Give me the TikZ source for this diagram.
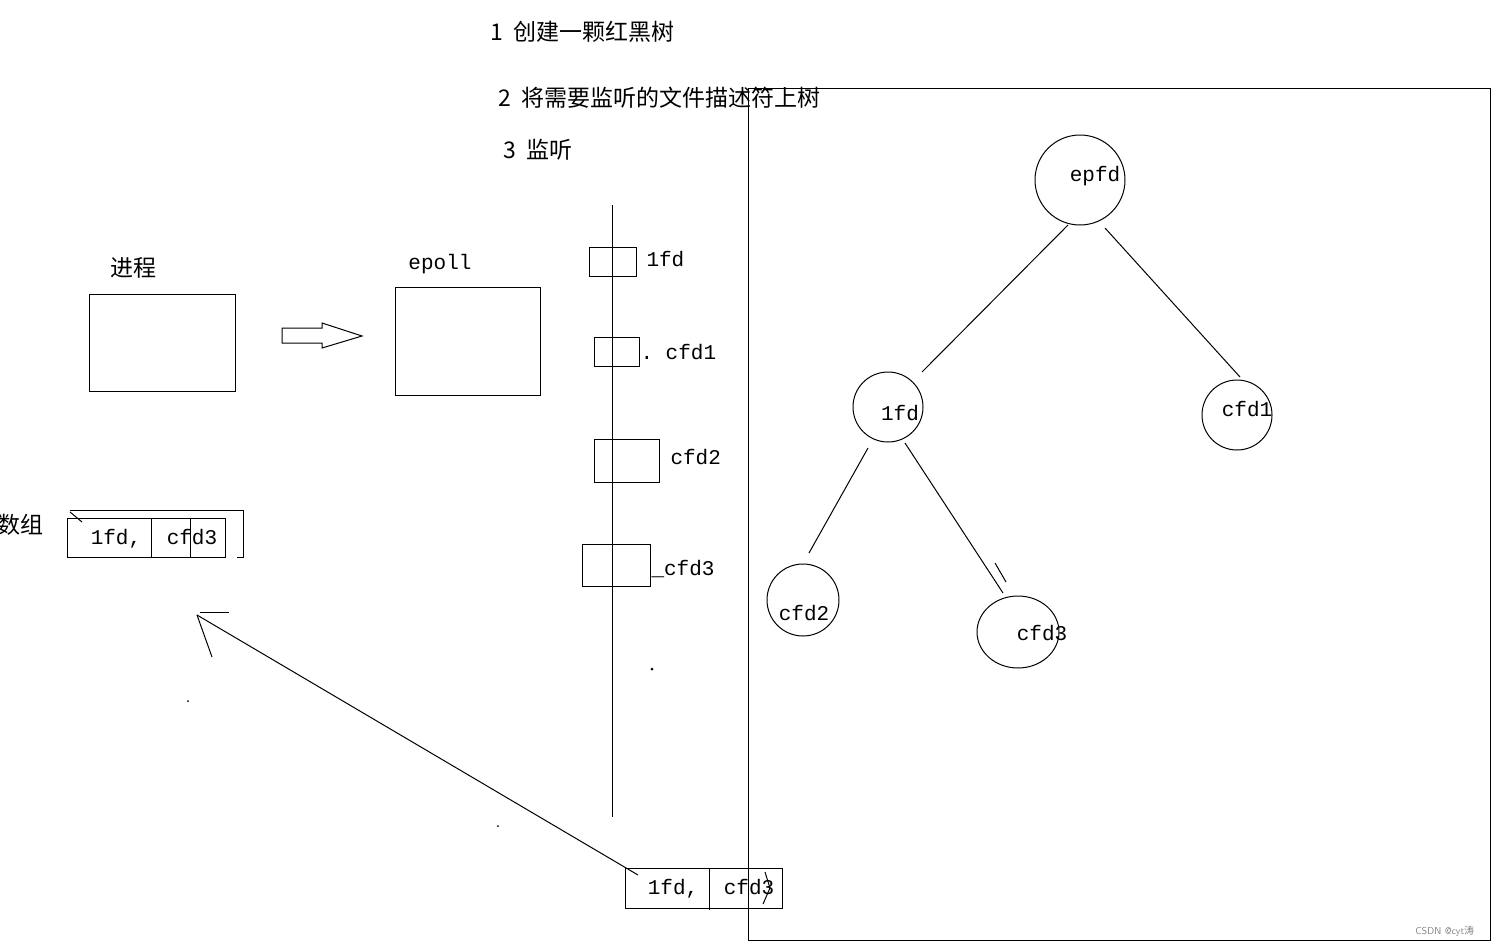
\documentclass[tikz,border=0pt]{standalone}
\usepackage{fontspec}
\usetikzlibrary{shapes.geometric}
\setmainfont{Liberation Mono}
\newfontfamily\cjk{Noto Sans CJK SC}
\begin{document}
\begin{tikzpicture}[x=1pt,y=-1pt,line width=1pt,
  lab/.style={font=\fontsize{21}{24}\selectfont,inner sep=0pt},
  cn/.style={font=\cjk\fontsize{23}{26}\selectfont,inner sep=0pt,anchor=west},
  box/.style={draw,line width=1pt}]
\useasboundingbox (0,0) rectangle (1492,948);
\node[cn] (t1) at (490,32) {1\ \ 创建一颗红黑树};
\node[cn] (t2) at (498,98) {2\ \ 将需要监听的文件描述符上树};
\node[cn] (t3) at (503,150) {3\ \ 监听};
\draw (748,88) rectangle (1490,940);
% tree
\node[draw,circle,minimum size=90pt,inner sep=0pt] (ep) at (1080,180) {};
\node[lab] at (1095,176) {epfd};
\node[draw,circle,minimum size=70pt,inner sep=0pt] (l) at (888,407) {};
\node[lab] at (900,413) {1fd};
\node[draw,circle,minimum size=70pt,inner sep=0pt] (c1) at (1237,415) {};
\node[lab] at (1247,409) {cfd1};
\node[draw,circle,minimum size=72pt,inner sep=0pt] (c2) at (803,600) {};
\node[lab] at (804,613) {cfd2};
\node[draw,ellipse,minimum width=82pt,minimum height=72pt,inner sep=0pt] (c3) at (1018,632) {};
\node[lab] at (1042,633) {cfd3};
\coordinate (a1) at (1068,225); \coordinate (a2) at (922,372);
\coordinate (b1) at (1105,228); \coordinate (b2) at (1240,377);
\coordinate (d1) at (868,448); \coordinate (d2) at (809,553);
\coordinate (e1) at (905,443); \coordinate (e2) at (1003,593);
\draw (a1)--(a2); \draw (b1)--(b2); \draw (d1)--(d2); \draw (e1)--(e2);
\draw (995,563)--(1006,582);
% process / epoll
\node[cn] at (110,268) {进程};
\node[box,minimum width=146pt,minimum height=97pt] (p) at (162,343) {};
\node[lab] at (440,264) {epoll};
\node[box,minimum width=145pt,minimum height=108pt] (e) at (468,341) {};
\draw (282,328)--(322,328)--(322,323)--(362,336)--(322,348)--(322,343)--(282,343)--cycle;
% vertical list
\draw (612,205)--(612,817);
\node[box,minimum width=47pt,minimum height=29pt] (r1) at (613,262) {};
\node[lab,anchor=west] at (646,259) {1fd};
\node[box,minimum width=45pt,minimum height=29pt] (r2) at (617,352) {};
\node[lab,anchor=west] at (640,352) {.\ cfd1};
\node[box,minimum width=65pt,minimum height=43pt] (r3) at (627,461) {};
\node[lab,anchor=west] at (670,457) {cfd2};
\node[box,minimum width=68pt,minimum height=42pt] (r4) at (616,565) {};
\node[lab,anchor=west] at (651,569) {\_cfd3};
\fill (652,669) circle (1.5);
\fill (188,701) circle (1); \fill (498,826) circle (1);
% array left
\node[cn,anchor=east] at (44,525) {数组};
\draw (67,518) rectangle (225,557); \draw (151,518)--(151,557);
\node[lab] at (116,539) {1fd,};
\node[lab] at (192,537) {cfd3};
\draw (70,512)--(82,522); \draw (70,510)--(243,510)--(243,557)--(237,557);
\draw (190,518)--(190,557);
% bottom array
\draw (625,868) rectangle (782,908); \draw (709,868)--(709,910);
\node[lab] at (673,889) {1fd,};
\node[lab] at (749,887) {cfd3};
\draw (765,872)--(770,888)--(763,904);
\coordinate (s) at (638,875); \coordinate (tt) at (197,615);
\draw (s)--(tt); \draw (tt)--(212,657); \draw (200,612)--(229,612);
\node[font=\sffamily\fontsize{10}{12}\selectfont,text=gray,anchor=east] at (1478,931) {CSDN @cyt\cjk 涛};
\end{tikzpicture}
\end{document}
